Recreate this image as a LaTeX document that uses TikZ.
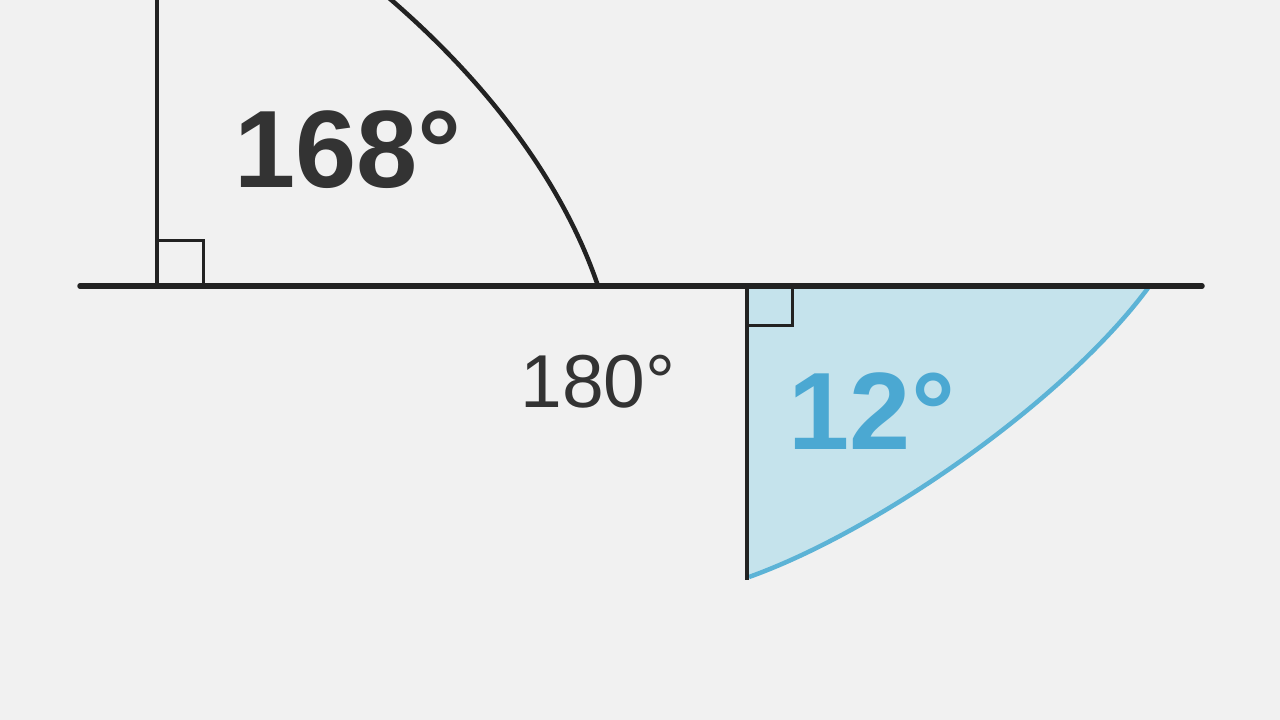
\documentclass[tikz,border=0pt]{standalone}
\usepackage{fontspec}
\setmainfont{Liberation Sans}
\definecolor{bg}{HTML}{F1F1F1}
\definecolor{ink}{HTML}{222222}
\definecolor{txt}{HTML}{333333}
\definecolor{bfill}{HTML}{C5E3EC}
\definecolor{bline}{HTML}{5CB3D6}
\definecolor{btxt}{HTML}{4BA8D2}
\begin{document}
\begin{tikzpicture}[x=1pt,y=-1pt,
  ln/.style={draw=ink,line width=4.5pt},
  sq/.style={draw=ink,line width=3pt},
  big/.style={font=\fontsize{110}{110}\selectfont\bfseries,inner sep=0pt,anchor=base}]
\fill[bg] (0,0) rectangle (1280,720);
\useasboundingbox (0,0) rectangle (1280,720);
\clip (0,0) rectangle (1280,720);
% blue sector
\coordinate (bA) at (747,288);
\coordinate (bB) at (1148,288);
\coordinate (bC) at (749,577);
\fill[bfill] (bA) -- (bB) .. controls (1065,400) and (880,530) .. (bC) -- cycle;
\draw[bline,line width=4.5pt] (bB) .. controls (1065,400) and (880,530) .. (bC);
% lines
\coordinate (hL) at (80,286);
\coordinate (hR) at (1202,286);
\coordinate (v1t) at (157,-5);
\coordinate (v1b) at (157,286);
\coordinate (v2t) at (747,286);
\coordinate (v2b) at (747,580);
\draw[ln] (v1t) -- (v1b);
\draw[ln] (v2t) -- (v2b);
\draw[ln] (382,-8) .. controls (498,90) and (567,194) .. (598,286);
\draw[sq] (157,240) -- (203,240) -- (203,286);
\draw[sq] (747,325) -- (792,325) -- (792,286);
\draw[ink,line width=5.5pt,line cap=round] (hL) -- (hR);
% labels
\node[big,text=txt] (t168) at (348,187) {168°};
\node[big,text=btxt] (t12) at (872,449) {12°};
\node[font=\fontsize{75}{75}\selectfont,text=txt,inner sep=0pt,anchor=base] (t180) at (598,407) {180°};
\end{tikzpicture}
\end{document}
